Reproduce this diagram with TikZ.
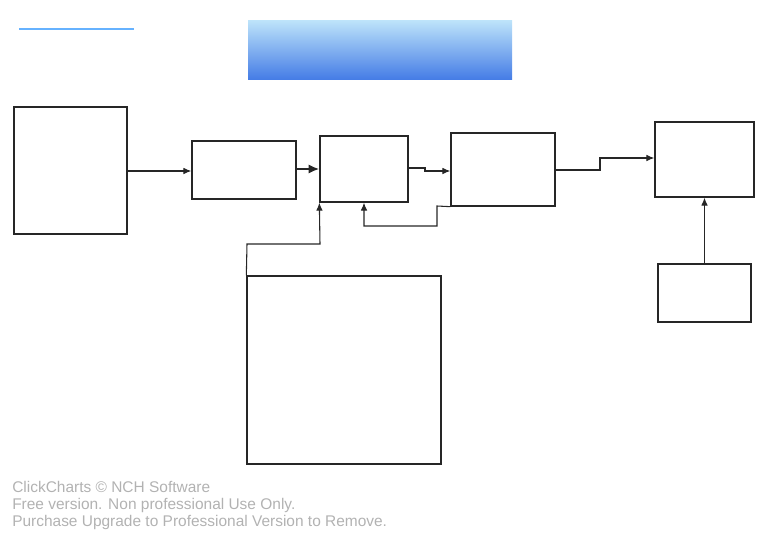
\documentclass[tikz,border=0pt]{standalone}
\usepackage{fontspec}
\setmainfont{Liberation Sans}
\usetikzlibrary{arrows.meta}
\begin{document}
\begin{tikzpicture}[x=0.75pt,y=-0.75pt,
  box/.style={draw=black!85,line width=1pt},
  conn/.style={draw=black!85,line width=0.8pt,-{Latex[length=6pt,width=5pt]}},
  wm/.style={anchor=west,text=black!30,font=\fontsize{11.6pt}{13pt}\selectfont,inner sep=0pt}]
\useasboundingbox (0,0) rectangle (768,543);
\draw[blue!50!cyan!60,line width=1pt] (19,29) -- (134,29);
\definecolor{tl}{RGB}{190,228,250}\definecolor{tb}{RGB}{70,125,230}
\shade[top color=tl,bottom color=tb] (248,20) rectangle (512,79);
\node[box,minimum width=84.75pt,minimum height=95.25pt] (A) at (70.5,170.5) {};
\node[box,minimum width=78pt,minimum height=43.5pt] (B) at (244,170) {};
\node[box,minimum width=66pt,minimum height=49.5pt] (C) at (364,169) {};
\node[box,minimum width=78pt,minimum height=54.75pt] (D) at (503,169.5) {};
\node[box,minimum width=74.25pt,minimum height=56.25pt] (E) at (704.5,159.5) {};
\node[box,minimum width=69.75pt,minimum height=43.5pt] (F) at (704.5,293) {};
\node[box,minimum width=145.5pt,minimum height=141pt] (G) at (344,370) {};
\draw[conn] (A.east |- 0,171) -- (B.west |- 0,171);
\draw[conn,line width=2pt,-{Latex[length=8pt,width=7pt]}] (B.east |- 0,169) -- (C.west |- 0,169);
\draw[conn] (C.east |- 0,168) -- (425,168) -- (425,171) -- (D.west |- 0,171);
\draw[conn] (D.south west) -- (437,206) -- (437,226) -- (364,226) -- (C.south);
\draw[conn] (G.north west) -- (247,244) -- (320,244) -- (C.south west);
\draw[conn] (D.east |- 0,170) -- (600,170) -- (600,158) -- (E.west |- 0,158);
\draw[conn] (F.north) -- (E.south);
\node[wm] (w1) at (12,487) {ClickCharts © NCH Software};
\node[wm] (w2) at (12,505) {Free version. Non professional Use Only.};
\node[wm] (w3) at (12,522) {Purchase Upgrade to Professional Version to Remove.};
\end{tikzpicture}
\end{document}
